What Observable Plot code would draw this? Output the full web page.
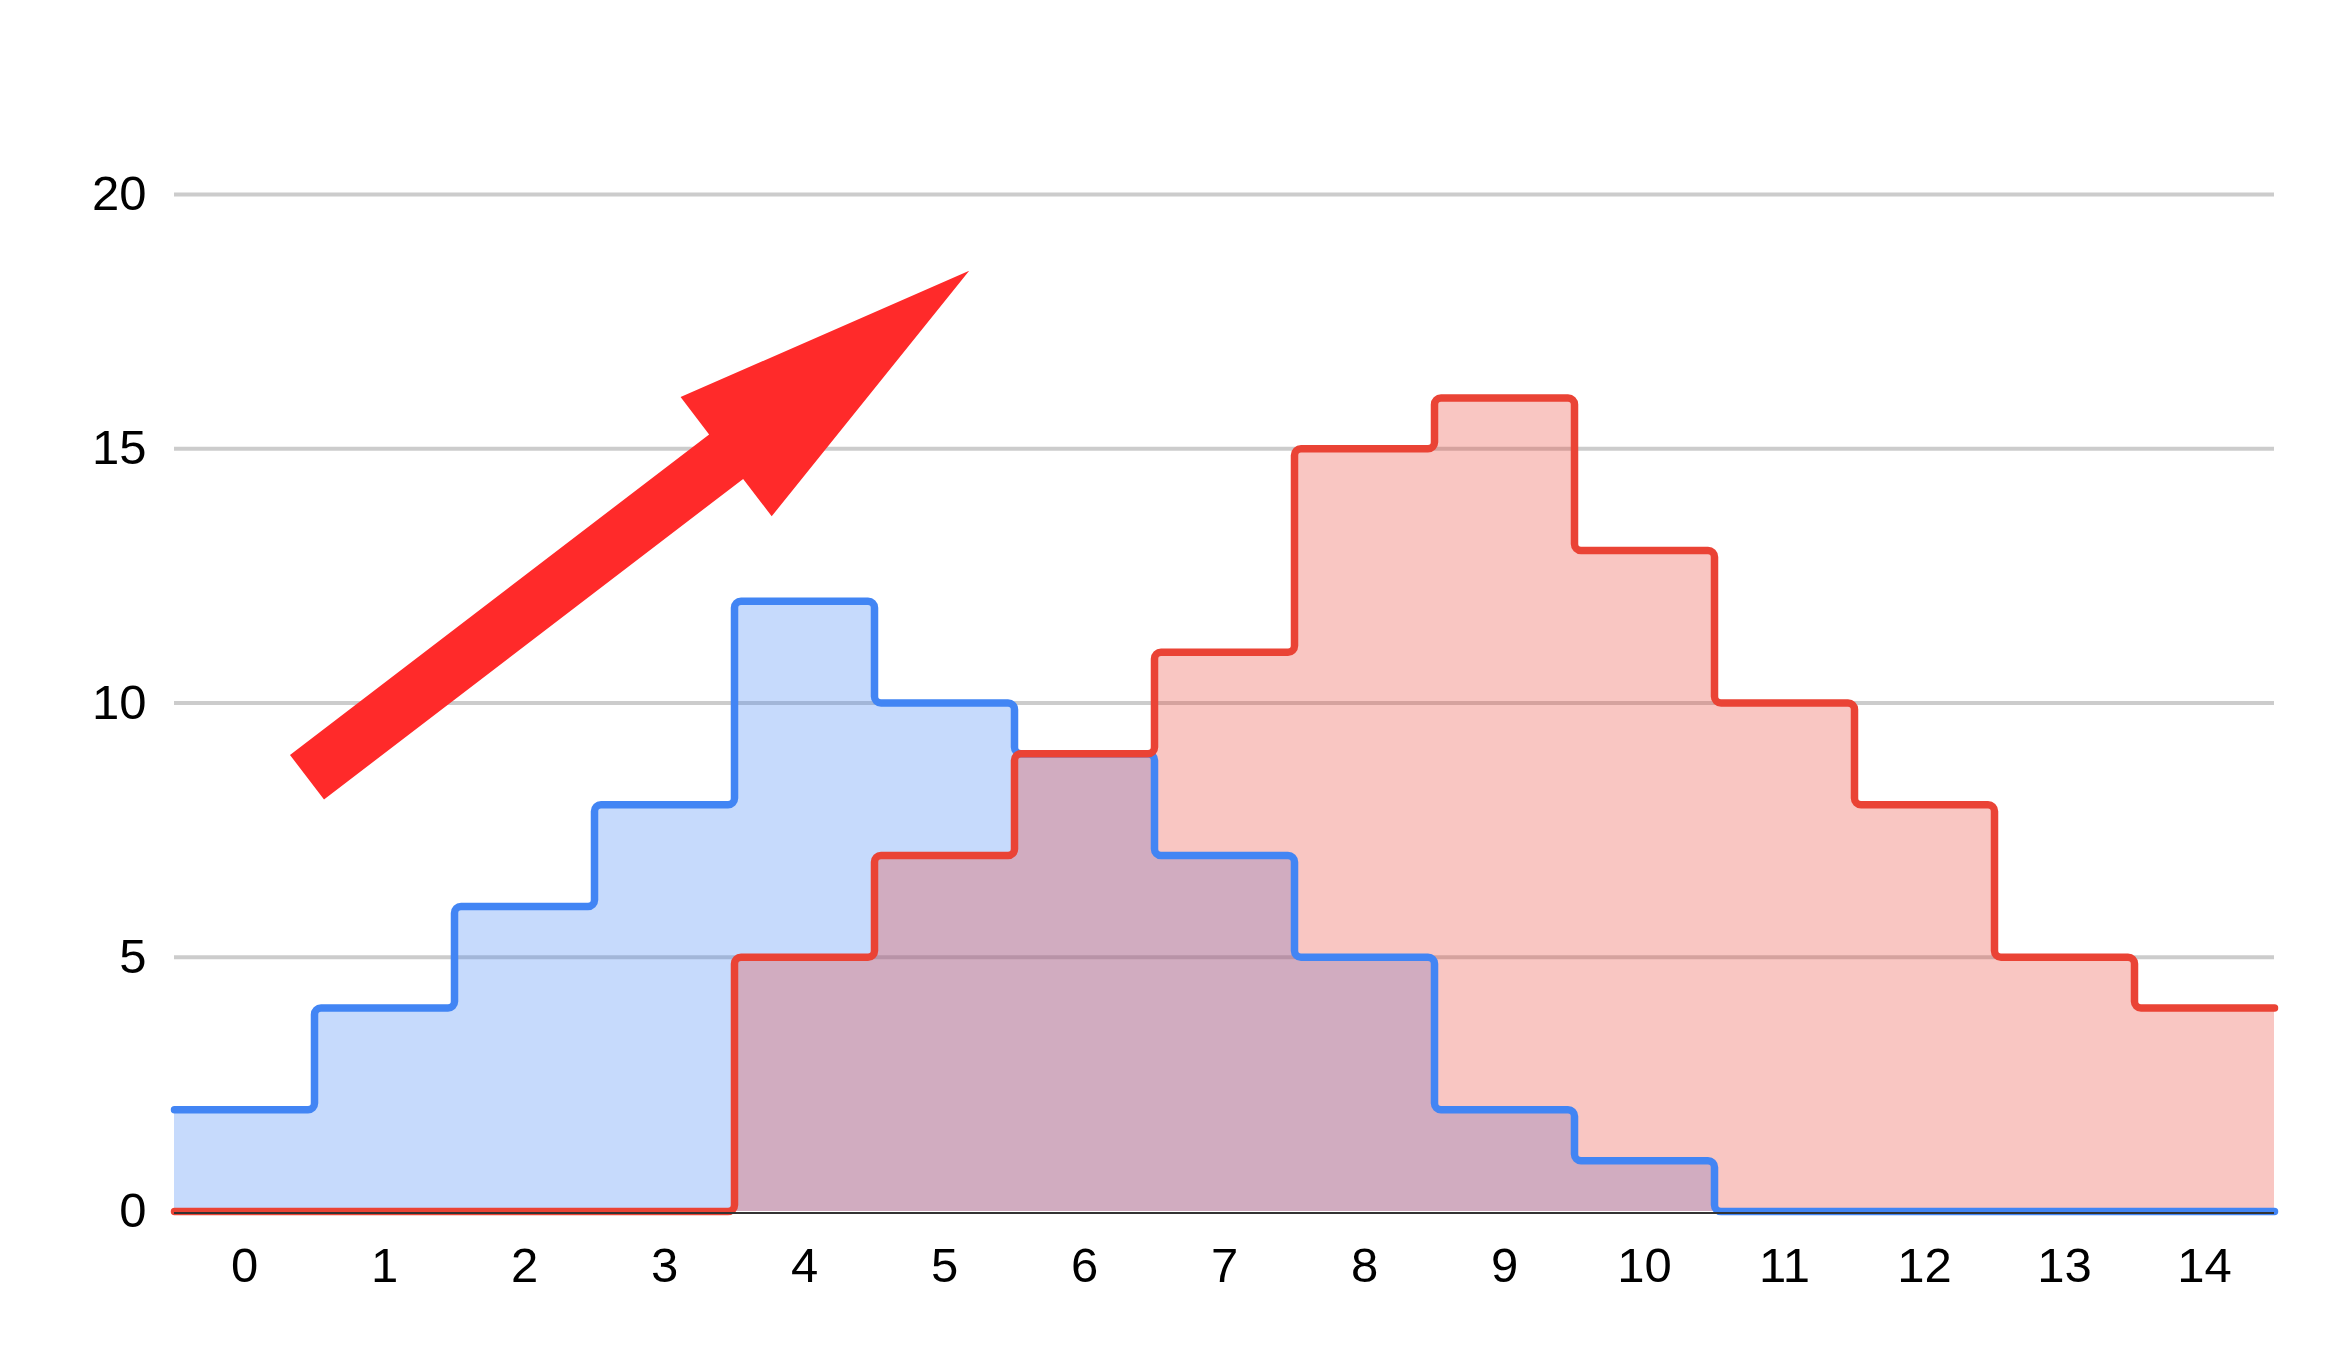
<!DOCTYPE html>
<html>
<head>
<meta charset="utf-8">
<script src="https://cdn.jsdelivr.net/npm/d3@7"></script>
<script src="https://cdn.jsdelivr.net/npm/@observablehq/plot@0.6"></script>
<style>
  html, body { margin: 0; padding: 0; background: #fff; overflow: hidden; }
</style>
</head>
<body>
<div id="chart"></div>
<script>
// ---- data ----
const categories = [0, 1, 2, 3, 4, 5, 6, 7, 8, 9, 10, 11, 12, 13, 14];
const blueValues = [2, 4, 6, 8, 12, 10, 9, 7, 5, 2, 1, 0, 0, 0, 0];
const redValues  = [0, 0, 0, 0, 5, 7, 9, 11, 15, 16, 13, 10, 8, 5, 4];
const xTicks = [0, 1, 2, 3, 4, 5, 6, 7, 8, 9, 10, 11, 12, 13, 14];
const yTicks = [0, 5, 10, 15, 20];
const gridValues = [5, 10, 15, 20];
// annotation arrow, in data units: [x, y]
const arrowFrom = [0.45, 8.53];
const arrowTo = [5.18, 18.49];

const blueData = categories.map((c, i) => ({x: c, y: blueValues[i]}));
const redData = categories.map((c, i) => ({x: c, y: redValues[i]}));

// step curve that extends half a step on both ends, with rounded corners
function roundedStep(r) {
  return function(context) { return new RStep(context, r); };
}
class RStep {
  constructor(c, r) { this._c = c; this._r = r; }
  areaStart() { this._line = 0; }
  areaEnd() { this._line = NaN; }
  lineStart() { this._p = []; }
  point(x, y) { this._p.push([+x, +y]); }
  lineEnd() {
    const p = this._p, n = p.length, c = this._c;
    if (n) {
      const h = n > 1 ? (p[1][0] - p[0][0]) / 2 : 0;
      let v = [[p[0][0] - h, p[0][1]]];
      for (let i = 0; i < n; i++) {
        const xe = i < n - 1 ? (p[i][0] + p[i + 1][0]) / 2 : p[i][0] + h;
        v.push([xe, p[i][1]]);
        if (i < n - 1) v.push([xe, p[i + 1][1]]);
      }
      v = v.filter((d, i) => i === 0 || Math.abs(d[0] - v[i - 1][0]) > 1e-9 || Math.abs(d[1] - v[i - 1][1]) > 1e-9);
      const w = [v[0]];
      for (let i = 1; i < v.length - 1; i++) {
        const a = w[w.length - 1], b = v[i], d = v[i + 1];
        const cross = (b[0] - a[0]) * (d[1] - b[1]) - (b[1] - a[1]) * (d[0] - b[0]);
        if (Math.abs(cross) > 1e-6) w.push(b);
      }
      if (v.length > 1) w.push(v[v.length - 1]);
      if (this._line) c.lineTo(w[0][0], w[0][1]); else c.moveTo(w[0][0], w[0][1]);
      for (let i = 1; i < w.length - 1; i++) {
        const a = w[i - 1], b = w[i], d = w[i + 1];
        const l1 = Math.hypot(b[0] - a[0], b[1] - a[1]);
        const l2 = Math.hypot(d[0] - b[0], d[1] - b[1]);
        const rr = Math.min(this._r, l1 / 2, l2 / 2);
        c.arcTo(b[0], b[1], d[0], d[1], rr);
      }
      if (w.length > 1) c.lineTo(w[w.length - 1][0], w[w.length - 1][1]);
    }
    if (this._line || (this._line !== 0 && n === 1)) c.closePath();
    this._line = 1 - this._line;
  }
}

const curve = roundedStep(6.5);

function arrowMark(index, scales) {
  const tx = scales.x(arrowFrom[0]), ty = scales.y(arrowFrom[1]);
  const hx = scales.x(arrowTo[0]), hy = scales.y(arrowTo[1]);
  const len = Math.hypot(hx - tx, hy - ty);
  const ux = (hx - tx) / len, uy = (hy - ty) / len;
  const px = -uy, py = ux;
  const shaftHalf = 28, headHalf = 75, headLen = 306;
  const nx = hx - ux * headLen, ny = hy - uy * headLen;
  const pts = [
    [tx + px * shaftHalf, ty + py * shaftHalf],
    [nx + px * shaftHalf, ny + py * shaftHalf],
    [nx + px * headHalf, ny + py * headHalf],
    [hx, hy],
    [nx - px * headHalf, ny - py * headHalf],
    [nx - px * shaftHalf, ny - py * shaftHalf],
    [tx - px * shaftHalf, ty - py * shaftHalf]
  ];
  const g = d3.create("svg:g");
  g.append("polygon")
    .attr("points", pts.map(d => d.join(",")).join(" "))
    .attr("fill", "#ff2a2a");
  return g.node();
}

const plot = Plot.plot({
  width: 2351,
  height: 1372,
  marginLeft: 174,
  marginRight: 77,
  marginTop: 194,
  marginBottom: 161,
  style: {fontFamily: "'Liberation Sans', Arial, sans-serif", fontSize: "49px", color: "#000", background: "#fff", overflow: "visible"},
  x: {domain: [-0.5, 14.5], ticks: xTicks, tickSize: 0, tickPadding: 36, label: null, line: false},
  y: {domain: [0, 20], ticks: yTicks, tickSize: 0, tickPadding: 28, label: null},
  marks: [
    Plot.ruleY(gridValues, {stroke: "#cccccc", strokeWidth: 4}),
    Plot.areaY(blueData, {x: "x", y: "y", curve, fill: "#4285f4", fillOpacity: 0.3}),
    Plot.areaY(redData, {x: "x", y: "y", curve, fill: "#ea4335", fillOpacity: 0.3}),
    Plot.lineY(blueData, {x: "x", y: "y", curve, stroke: "#4285f4", strokeWidth: 7.5, strokeLinejoin: "round"}),
    Plot.lineY(redData, {x: "x", y: "y", curve, stroke: "#ea4335", strokeWidth: 7.5, strokeLinejoin: "round"}),
    Plot.ruleY([0], {stroke: "#333333", strokeWidth: 2, dy: 1.5}),
    arrowMark
  ]
});
document.getElementById("chart").appendChild(plot);
</script>
</body>
</html>
